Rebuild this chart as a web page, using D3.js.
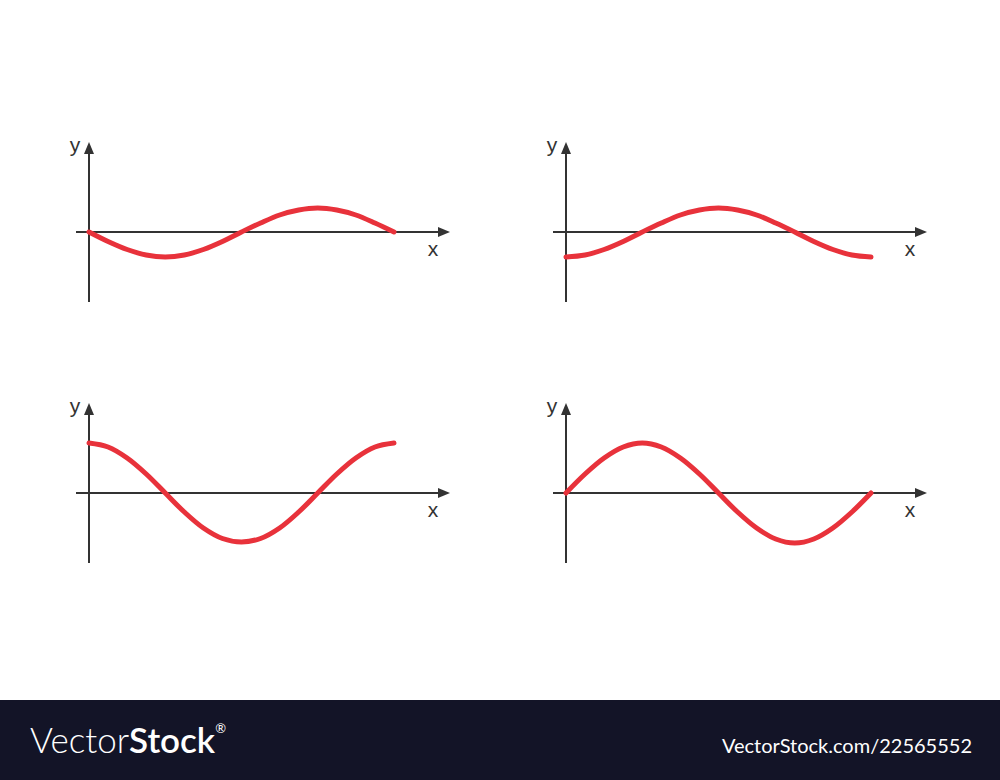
<!DOCTYPE html>
<html>
<head>
<meta charset="utf-8">
<script src="https://cdn.jsdelivr.net/npm/d3@7"></script>
<style>
  body { margin: 0; background: #fff; }
  svg { display: block; }
</style>
</head>
<body>
<div id="chart-container"></div>
<script>
// sample positions, in sixteenths of a period
const xSteps = [0, 1, 2, 3, 4, 5, 6, 7, 8, 9, 10, 11, 12, 13, 14, 15, 16];

// values (1 unit = big amplitude)
const topLeftY     = [0, -0.19, -0.35, -0.46, -0.5, -0.46, -0.35, -0.19, 0, 0.18, 0.34, 0.44, 0.48, 0.44, 0.34, 0.18, 0];
const topRightY    = [-0.5, -0.46, -0.35, -0.19, 0, 0.18, 0.34, 0.44, 0.48, 0.44, 0.34, 0.18, 0, -0.19, -0.35, -0.46, -0.5];
const bottomLeftY  = [1, 0.92, 0.7, 0.38, 0, -0.38, -0.7, -0.91, -0.98, -0.91, -0.7, -0.38, 0, 0.38, 0.7, 0.92, 1];
const bottomRightY = [0, 0.38, 0.7, 0.92, 1, 0.92, 0.7, 0.38, 0, -0.38, -0.7, -0.92, -1, -0.92, -0.7, -0.38, 0];

const axisLabels = ["x", "y"];
const brandLeft = "Vector", brandBold = "Stock", brandId = "VectorStock.com/22565552";

const width = 1000, height = 780;
const axisColor = "#333333", curveColor = "#e8323b";

// panel origins
var panels = [
    {ox: 89,  oy: 232, values: topLeftY},
    {ox: 566, oy: 232, values: topRightY},
    {ox: 89,  oy: 493, values: bottomLeftY},
    {ox: 566, oy: 493, values: bottomRightY}
];

var svg = d3.select("#chart-container").append("svg")
    .attr("width", width)
    .attr("height", height);

svg.append("rect").attr("width", width).attr("height", height).attr("fill", "#fff");

panels.forEach(function(p){
    var g = svg.append("g").attr("transform", `translate(${p.ox}, ${p.oy})`);

    // one period spans 305px, 1 value unit = 50px
    var xScale = d3.scaleLinear().domain([0, 16]).range([0, 305]);
    var yScale = d3.scaleLinear().domain([-1, 1]).range([50, -50]);

    var xMin = xScale.invert(-13), xMax = xScale.invert(361);
    var yMin = yScale.invert(70), yMax = yScale.invert(-90);

    // x axis
    g.append("line")
        .attr("x1", xScale(xMin)).attr("x2", xScale(xMax) - 10)
        .attr("y1", yScale(0)).attr("y2", yScale(0))
        .attr("stroke", axisColor).attr("stroke-width", 2);
    g.append("path")
        .attr("d", `M${xScale(xMax)},${yScale(0)} l-12,-5 l0,10 z`)
        .attr("fill", axisColor);

    // y axis
    g.append("line")
        .attr("x1", xScale(0)).attr("x2", xScale(0))
        .attr("y1", yScale(yMin)).attr("y2", yScale(yMax) + 10)
        .attr("stroke", axisColor).attr("stroke-width", 2);
    g.append("path")
        .attr("d", `M${xScale(0)},${yScale(yMax)} l-5,12 l10,0 z`)
        .attr("fill", axisColor);

    g.append("text")
        .attr("x", xScale(xMax) - 17).attr("y", yScale(0) + 24)
        .attr("text-anchor", "middle")
        .attr("font-family", "Liberation Sans, Arial, sans-serif")
        .attr("font-size", 21).attr("fill", axisColor)
        .text(axisLabels[0]);
    g.append("text")
        .attr("x", xScale(0) - 14).attr("y", yScale(yMax) + 10)
        .attr("text-anchor", "middle")
        .attr("font-family", "Liberation Sans, Arial, sans-serif")
        .attr("font-size", 21).attr("fill", axisColor)
        .text(axisLabels[1]);

    var line = d3.line()
        .x((d, i) => xScale(xSteps[i]))
        .y(d => yScale(d))
        .curve(d3.curveCatmullRom);

    g.append("path")
        .datum(p.values)
        .attr("d", line)
        .attr("fill", "none")
        .attr("stroke", curveColor)
        .attr("stroke-width", 5)
        .attr("stroke-linecap", "round");
});

// banner
svg.append("rect")
    .attr("x", 0).attr("y", 700).attr("width", width).attr("height", 80)
    .attr("fill", "#131427");

var brand = svg.append("text")
    .attr("x", 30).attr("y", 753)
    .attr("font-family", "Lato, 'Open Sans', sans-serif")
    .attr("font-size", 35).attr("fill", "#fff");
brand.append("tspan").attr("font-weight", 300).text(brandLeft);
brand.append("tspan").attr("font-weight", 600).text(brandBold);
brand.append("tspan").attr("font-size", 13).attr("dy", -20).text("®");

svg.append("text")
    .attr("x", 972).attr("y", 753)
    .attr("text-anchor", "end")
    .attr("font-family", "Lato, 'Open Sans', sans-serif")
    .attr("font-size", 20).attr("fill", "#fff")
    .text(brandId);
</script>
</body>
</html>
